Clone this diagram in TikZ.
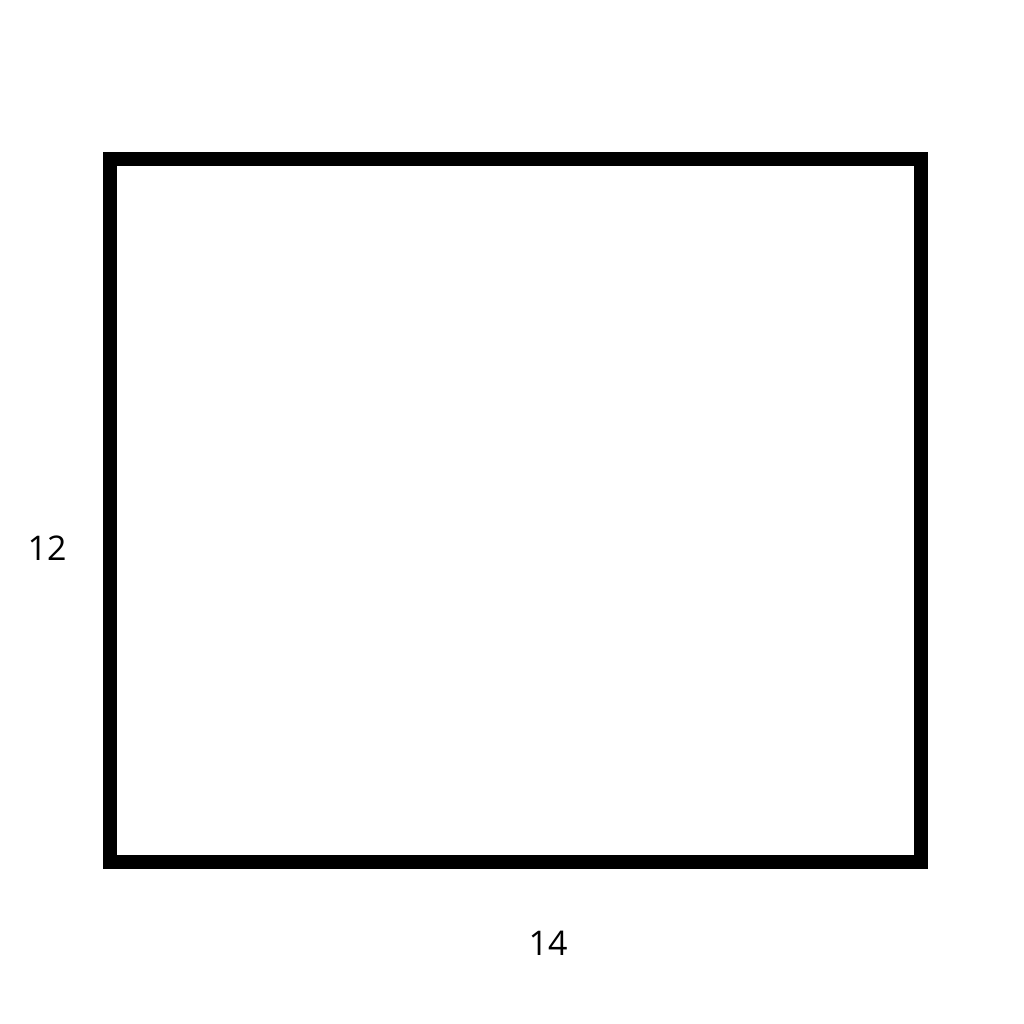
\documentclass[tikz,border=0pt]{standalone}
\usepackage{fontspec}
\setmainfont{Open Sans}
\begin{document}
\begin{tikzpicture}[x=0.5pt,y=-0.5pt,
  frame/.style={draw=black,line width=7pt,line join=miter},
  dimlabel/.style={font=\fontsize{17}{20}\selectfont,inner sep=0pt}]
\useasboundingbox[fill=white] (0,0) rectangle (1024,1024);
\draw[frame] (110,159) rectangle (921,862);
\node[dimlabel] (h) at (47,548) {12};
\node[dimlabel] (w) at (548,943) {14};
\end{tikzpicture}
\end{document}
